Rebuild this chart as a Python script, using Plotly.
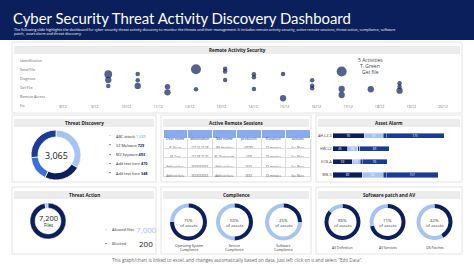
import plotly.graph_objects as go

W, H = 474, 266
def X(p): return p / W
def Y(p): return 1 - p / H

NAVY = "#0b1f5c"
LIGHT = "#a6c3f3"
MID = "#3b6fd8"
BLUE2 = "#1b3c94"
GREY_TXT = "#555555"
FONT = "Open Sans"
NB = "\u00a0"

# ---------------- data ----------------
title = "Cyber Security Threat Activity Discovery Dashboard"
subtitle_1 = ("The following slide highlights the dashboard for cyber security threat activity discovery to monitor the threats and their "
              "management. It includes remote activity security, active remote sessions, threat action, compliance, software")
subtitle_2 = "patch,  asset alarm and threat discovery."

activity_cats = ["Identification", "Send File", "Diagnose", "Get File", "Remote Access", "Fix"]
activity_levels = [5, 4, 3, 2, 1, 0]
date_vals = [8, 9, 10, 11, 12, 13, 14, 15, 16, 17, 18, 19, 20]
date_labels = ["8/12", "9/12", "10/12", "11/12", "12/12", "13/12", "14/12", "15/12", "16/12", "17/12", "18/12", "19/12", "20/12"]
act_day = [9.43, 9.43, 9.43, 10.36, 10.36, 10.36, 11.3, 11.3, 12.2, 12.2, 13.12, 13.12, 13.12,
           14.03, 14.03, 14.03, 14.95, 14.95, 15.87, 15.87, 15.87, 16.8, 16.8, 16.8, 17.72,
           18.63, 18.63, 18.63]
act_level = [3.48, 2.84, 2.17, 3.52, 2.81, 2.17, 2.09, 1.46, 4.04, 1.8, 4.11, 3.78, 2.84,
             3.48, 3.15, 1.83, 3.52, 0.79, 2.81, 2.2, 1.9, 3.78, 1.83, 1.16, 1.8,
             2.47, 2.09, 1.64]
act_count = [3, 2, 1, 1, 1, 2, 1.5, 2, 5, 1, 1, 1, 1,
             1, 1, 1, 1, 2, 1, 1, 1, 5, 2, 2, 2,
             1, 1, 2]
callout_lines = ["5 Activities", "T. Green", "Get file"]

td_labels = ["ABC attack", "V2 Malware", "M2 Spyware", "Add text here", "Add text here"]
td_values = [1025, 729, 493, 470, 348]
td_total = "3,065"

sess_header = ["User name", "destination", "Site name", "protocols", "Duration", "actions"]
sess_rows = [
    ["R. Green", "172.16.16.08", "INS Analytics", "HTTPS", "34 minutes", "See More"],
    ["M. Tran", "172.58.25.06", "NC Newsroom", "UDP", "36 minutes", "See More"],
    ["Add text here", "XXXXXXXXXX", "Add text here", "XXXX", "XX minutes", "See More"],
    ["Add text here", "XXXXXXXXXX", "Add text here", "XXXX", "XX minutes", "See More"],
]

alarm_cats = ["AH-L2.3", "HW-L2", "ECB-A", "WB-3"]
alarm_a = [95, 45, 59, 89]
alarm_b = [57, 30, 23, 63]
alarm_c = [8, 6, 6, 8]
alarm_d = [175, 89, 76, 157]

ta_labels = ["Allowed files", "Blocked"]
ta_values = [7000, 200]
ta_total = "7,200"

comp_labels = ["Operating System<br>Complience", "Service<br>Complience", "Software<br>Complience"]
comp_values = [75, 50, 25]
sw_labels = ["AV Definition", "AV Services", "OS Patches"]
sw_values = [86, 71, 42]

footer = 'This graph/chart is linked to excel, and changes automatically based on data. Just left click on it and select "Edit Data".'

# ---------------- figure ----------------
fig = go.Figure()
shapes = []
ann = []

def rect(x0, y0, x1, y1, fill, line=None, lw=0):
    shapes.append(dict(type="rect", xref="paper", yref="paper", x0=X(x0), x1=X(x1), y0=Y(y1), y1=Y(y0),
                       fillcolor=fill, line=dict(color=line or fill, width=lw), layer="below"))

def text(x, y, t, size=4, color=GREY_TXT, xanchor="center", bold=False, family=FONT):
    ann.append(dict(x=X(x), y=Y(y), xref="paper", yref="paper", text=(f"<b>{t}</b>" if bold else t),
                    showarrow=False, xanchor=xanchor, yanchor="middle",
                    font=dict(size=size, color=color, family=family)))

# header
rect(0, 0, W, 40, NAVY)
text(11, 18, title, size=14.9, color="white", xanchor="left", family="Lato")
text(12, 29.5, subtitle_1, size=3.6, color="white", xanchor="left")
text(12, 33.8, subtitle_2, size=3.6, color="white", xanchor="left")

# panels
panels = [
    (12, 42, 462, 113, "Remote Activity Security"),
    (12, 115, 156, 182, "Threat Discovery"),
    (161, 115, 311, 182, "Active Remote Sessions"),
    (316, 115, 462, 182, "Asset Alarm"),
    (12, 187, 156, 254, "Threat Action"),
    (161, 187, 311, 254, "Complience"),
    (316, 187, 462, 254, "Software patch and AV"),
]
for (x0, y0, x1, y1, t) in panels:
    rect(x0, y0, x1, y1, "white", "#dddddd", 0.8)
    rect(x0 + 2, y0 + 4, x1 - 2, y0 + 12, "#ececec")
    text((x0 + x1) / 2, y0 + 8, t, size=4.6, color="#222222", bold=True)

# ---- Remote activity scatter
fig.add_trace(go.Scatter(x=act_day, y=act_level, mode="markers",
                         marker=dict(size=act_count, sizemode="area", sizeref=0.1, color=NAVY, line=dict(width=0)),
                         xaxis="x", yaxis="y", showlegend=False, hoverinfo="skip"))
for cat, lv in zip(activity_cats, activity_levels):
    ann.append(dict(x=X(18), y=lv, xref="paper", yref="y", text=cat, showarrow=False, xanchor="left",
                    font=dict(size=3.6, color="#666666", family=FONT)))
for i, line in enumerate(callout_lines):
    text(370, 60 + i * 6, line, size=5, color="#444444")

# ---- Threat discovery donut
cx, cy, r = 56, 155, 25
fig.add_trace(go.Pie(values=td_values, labels=td_labels, hole=0.72, sort=False, direction="clockwise",
                     marker=dict(colors=[LIGHT, NAVY, MID, BLUE2, "#143078"], line=dict(color="white", width=0.8)),
                     textinfo="none", showlegend=False, hoverinfo="skip",
                     domain=dict(x=[X(cx - r), X(cx + r)], y=[Y(cy + r), Y(cy - r)])))
text(cx, cy, td_total, size=9, color="#222222")
for i, (lab, val) in enumerate(zip(td_labels, td_values)):
    yy = 136 + i * 9.3
    vcol = LIGHT if i == 0 else NAVY
    text(110, yy, "•", size=5, color=(LIGHT if i == 0 else NAVY))
    text(113.5, yy, f"{lab} <b><span style='color:{vcol}'>{val:,}</span></b>", size=3.8, color="#333333", xanchor="left")

# ---- Active remote sessions table
cols = [[c.replace(" ", NB) for c in col] for col in zip(*sess_rows)]
fig.add_trace(go.Table(
    domain=dict(x=[X(163), X(310)], y=[Y(178), Y(129)]),
    header=dict(values=[h.replace(" ", NB) for h in sess_header], fill_color="#88abf0", line_color="white", height=9.5,
                font=dict(size=3.6, color=NAVY, family=FONT), align="center"),
    cells=dict(values=cols, fill_color="white", line_color="#dddddd", height=9.5,
               font=dict(size=2.9, color="#555555", family=FONT), align="center")))

# ---- Asset alarm stacked bars
for vals, col in [(alarm_a, NAVY), (alarm_b, LIGHT), (alarm_c, "#1a3a8c"), (alarm_d, BLUE2)]:
    fig.add_trace(go.Bar(y=alarm_cats, x=vals, orientation="h", marker=dict(color=col, line=dict(color="white", width=0.4)),
                         text=[str(v) if v > 15 else "" for v in vals], textposition="inside", insidetextanchor="middle",
                         textfont=dict(size=3, color="white"), xaxis="x2", yaxis="y2",
                         showlegend=False, hoverinfo="skip"))

# ---- Threat action donut
cx, cy, r = 48, 221, 18
fig.add_trace(go.Pie(values=ta_values, labels=ta_labels, hole=0.72, sort=False, direction="clockwise",
                     marker=dict(colors=[NAVY, LIGHT], line=dict(color="white", width=0.5)),
                     textinfo="none", showlegend=False, hoverinfo="skip",
                     domain=dict(x=[X(cx - r), X(cx + r)], y=[Y(cy + r), Y(cy - r)])))
text(cx, cy - 3, ta_total, size=7.5, color="#222222")
text(cx, cy + 4, "Files", size=4.5, color="#222222")
for i, (lab, val) in enumerate(zip(ta_labels, ta_values)):
    yy = 229.5 + i * 14
    col = LIGHT if i == 0 else NAVY
    text(106, yy, "•", size=5, color=col)
    text(110, yy, lab, size=3.8, color="#333333", xanchor="left")
    text(146, yy, f"{val:,}", size=8, color=col if i == 0 else "#222222", xanchor="center")

# ---- small donuts
def small_donut(cx, cy, r, v, lab):
    fig.add_trace(go.Pie(values=[v, 100 - v], hole=0.78, sort=False, direction="clockwise",
                         marker=dict(colors=[NAVY, LIGHT], line=dict(width=0)),
                         textinfo="none", showlegend=False, hoverinfo="skip",
                         domain=dict(x=[X(cx - r), X(cx + r)], y=[Y(cy + r), Y(cy - r)])))
    text(cx, cy - 2.5, f"{v}%", size=4.3, color="#333333")
    text(cx, cy + 2.5, "of assets", size=4.3, color="#333333")
    text(cx, 247.5, lab, size=3.4, color="#333333")

for cx, v, lab in zip([188.5, 234.5, 283.5], comp_values, comp_labels):
    small_donut(cx, 222, 18.5, v, lab)
for cx, v, lab in zip([342.5, 387.5, 434.5], sw_values, sw_labels):
    small_donut(cx, 222, 18, v, lab)

# footer
text(237, 259.5, footer, size=4.6, color="#666666")

fig.update_layout(
    width=W, height=H, margin=dict(l=0, r=0, t=0, b=0, pad=0),
    paper_bgcolor="white", plot_bgcolor="rgba(0,0,0,0)",
    shapes=shapes, annotations=ann, barmode="stack", bargap=0.6,
    font=dict(family=FONT),
    xaxis=dict(domain=[X(50), X(455)], range=[7.59, 20.38], tickvals=date_vals, ticktext=date_labels,
               anchor="free", position=Y(103.5),
               tickfont=dict(size=3.6, color="#666666"), showgrid=False, zeroline=False, showline=False, ticks=""),
    yaxis=dict(domain=[Y(109), Y(57)], range=[-0.41, 5.41], showticklabels=False, showgrid=False, zeroline=False),
    xaxis2=dict(domain=[X(332.7), X(460)], range=[0, 382], visible=False),
    yaxis2=dict(domain=[Y(181.5), Y(129.1)], categoryorder="array", categoryarray=alarm_cats, autorange="reversed",
                tickfont=dict(size=3.8, color="#444444"), showgrid=False, zeroline=False, ticks="", anchor="x2"),
)
fig.write_html("out.html")
